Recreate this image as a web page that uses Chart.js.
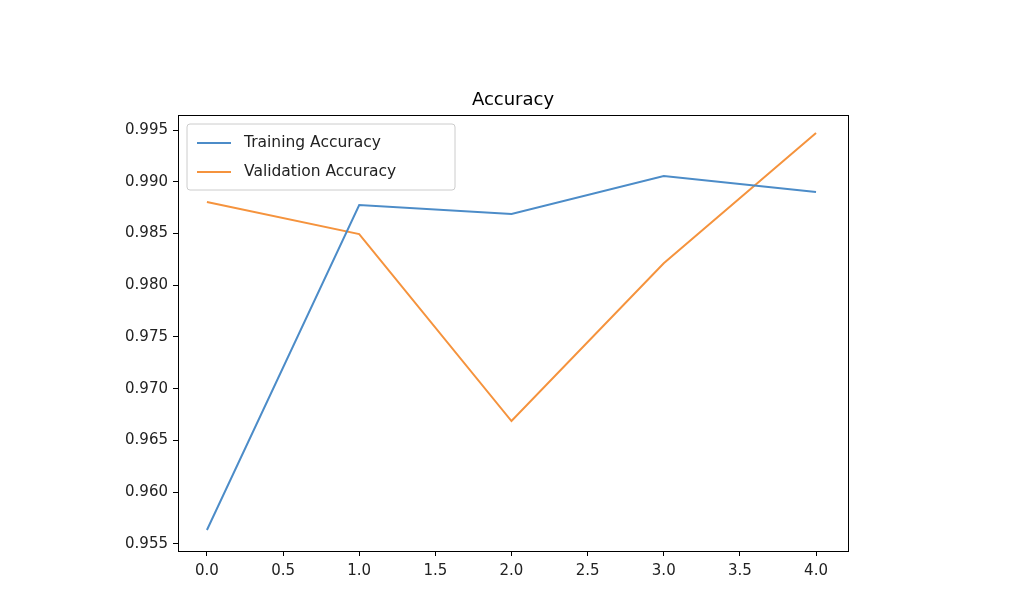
<!DOCTYPE html>
<html><head>
<script src="https://cdn.jsdelivr.net/npm/chart.js@4/dist/chart.umd.min.js"></script>
<style>body{margin:0;background:#fff}#c{display:block}</style>
</head><body>
<canvas id="c" width="1036" height="610"></canvas>
<script>
const epochs = [0, 1, 2, 3, 4];
const trainAcc = [0.95635, 0.98775, 0.98688, 0.99056, 0.9890];
const valAcc = [0.98804, 0.98494, 0.96688, 0.98213, 0.99471];
const xTicks = [0, 0.5, 1, 1.5, 2, 2.5, 3, 3.5, 4];
const yTicks = [0.955, 0.96, 0.965, 0.97, 0.975, 0.98, 0.985, 0.99, 0.995];

const FONT = 'DejaVu Sans';
Chart.defaults.font.family = FONT;
Chart.defaults.color = '#222';

const frame = {
  id: 'frame',
  afterDraw(chart) {
    const { ctx, chartArea: a } = chart;
    ctx.save();
    ctx.strokeStyle = '#000'; ctx.lineWidth = 1;
    ctx.strokeRect(a.left + 0.5, a.top + 0.5, a.right - a.left, a.bottom - a.top);
    ctx.fillStyle = '#000';
    ctx.font = '18px ' + FONT;
    ctx.textAlign = 'center'; ctx.textBaseline = 'bottom';
    ctx.fillText('Accuracy', (a.left + a.right) / 2, a.top - 6);
    // legend
    const lx = a.left + 9, ly = a.top + 9, w = 268, h = 66;
    ctx.fillStyle = 'rgba(255,255,255,0.8)';
    ctx.strokeStyle = '#ccc';
    ctx.beginPath(); ctx.roundRect(lx, ly, w, h, 3); ctx.fill(); ctx.stroke();
    ctx.font = '15.5px ' + FONT;
    ctx.textAlign = 'left'; ctx.textBaseline = 'middle';
    chart.data.datasets.forEach((d, i) => {
      const y = ly + 19 + i * 29;
      ctx.strokeStyle = d.borderColor; ctx.lineWidth = 2;
      ctx.beginPath(); ctx.moveTo(lx + 10, y); ctx.lineTo(lx + 44, y); ctx.stroke();
      ctx.fillStyle = '#222';
      ctx.fillText(d.label, lx + 57, y);
    });
    ctx.restore();
  }
};

new Chart(document.getElementById('c'), {
  type: 'line',
  data: {
    datasets: [
      { label: 'Training Accuracy', data: epochs.map((x, i) => ({ x, y: trainAcc[i] })), borderColor: '#4c8cc8', borderWidth: 2, pointRadius: 0, tension: 0 },
      { label: 'Validation Accuracy', data: epochs.map((x, i) => ({ x, y: valAcc[i] })), borderColor: '#f5933d', borderWidth: 2, pointRadius: 0, tension: 0 }
    ]
  },
  options: {
    responsive: false, animation: false,
    layout: { padding: { top: 115, right: 188, left: 0, bottom: 0 } },
    plugins: { legend: { display: false }, title: { display: false }, tooltip: { enabled: false } },
    scales: {
      x: {
        type: 'linear', min: -0.19, max: 4.21,
        afterBuildTicks: s => { s.ticks = xTicks.map(v => ({ value: v })); },
        afterFit: s => { s.height = 59; },
        grid: { drawOnChartArea: false, tickLength: 5, color: '#000' },
        border: { color: '#000' },
        ticks: { font: { size: 15 }, padding: 6, maxRotation: 0, callback: v => v.toFixed(1) }
      },
      y: {
        min: 0.95432, max: 0.99645,
        afterBuildTicks: s => { s.ticks = yTicks.map(v => ({ value: v })); },
        afterFit: s => { s.width = 178; },
        grid: { drawOnChartArea: false, tickLength: 5, color: '#000' },
        border: { color: '#000' },
        ticks: { font: { size: 15 }, padding: 5, callback: v => v.toFixed(3) }
      }
    }
  },
  plugins: [frame]
});
</script>
</body></html>
